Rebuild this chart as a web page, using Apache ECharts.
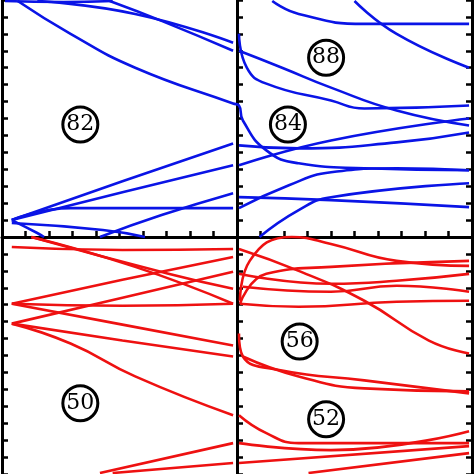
<!DOCTYPE html>
<html><head><meta charset="utf-8">
<script src="https://cdn.jsdelivr.net/npm/echarts@6/dist/echarts.min.js"></script>
<style>html,body{margin:0;padding:0;background:#fff}#c{width:474px;height:474px}</style>
</head><body><div id="c"></div>
<script>
// curves as [x, y] in image-like units (0..474, y downward), converted to centered axes below
const blueCurves = [
  [[13,0],[67,33],[133,67],[233,103],[239,105],[243,120],[267,150],[300,163],[367,168],[474,170]],
  [[33,0],[133,13],[233,42]],
  [[239,33],[247,67],[267,83],[333,100],[367,108],[474,105]],
  [[107,0],[160,20],[233,50]],
  [[239,50],[283,67],[333,87],[400,110],[474,125]],
  [[0,0],[60,1],[110,0]],
  [[7,220],[120,181],[233,143]],
  [[239,145],[300,148],[400,142],[474,132]],
  [[7,220],[120,192],[233,165]],
  [[239,165],[333,140],[474,118]],
  [[7,220],[67,208],[233,208]],
  [[239,197],[333,200],[474,207]],
  [[239,208],[290,185],[333,172],[400,168],[474,170]],
  [[260,237],[300,210],[333,197],[474,183]],
  [[7,220],[33,233],[40,237]],
  [[97,237],[160,215],[233,193]],
  [[7,223],[100,230],[143,237]],
  [[273,0],[300,13],[367,23],[474,23]],
  [[357,0],[400,33],[474,67]]
];
const redCurves = [
  [[7,247],[120,250],[233,249]],
  [[27,237],[133,267],[233,304]],
  [[27,237],[167,274],[233,289]],
  [[7,304],[120,280],[233,257]],
  [[7,304],[120,325],[233,346]],
  [[7,304],[120,306],[233,304]],
  [[7,324],[120,298],[233,272]],
  [[7,324],[120,341],[233,357]],
  [[7,324],[67,344],[133,377],[233,416]],
  [[97,474],[233,444]],
  [[110,474],[233,464]],
  [[240,301],[250,261],[293,237],[333,244],[400,261],[474,266]],
  [[239,274],[333,284],[400,281],[474,274]],
  [[240,304],[267,274],[333,267],[474,261]],
  [[239,249],[300,271],[367,301],[433,341],[474,354]],
  [[240,304],[300,307],[400,302],[474,301]],
  [[243,287],[333,292],[400,286],[474,292]],
  [[239,334],[243,357],[283,371],[367,381],[474,394]],
  [[243,357],[300,377],[367,389],[474,392]],
  [[239,416],[267,434],[300,444],[474,444]],
  [[239,444],[333,451],[474,432]],
  [[239,464],[474,447]],
  [[310,474],[474,454]]
];
const labelNames = ['82','84','88','56','50','52'];
const labelPoints = [[77,124],[289,124],[328,57],[301,342],[77,404],[328,420]];

const conv = p => [p[0]-237, 237-p[1]];
const lineSeries = (curves, color) => curves.map(c => ({
  type:'line', smooth:0.5, symbol:'none', data:c.map(conv), z:2,
  lineStyle:{color:color,width:2.6}, animation:false
}));
const tick = {show:true,inside:true,length:6,lineStyle:{color:'#000',width:2.5}};
const yBase = {type:'value',min:-238,max:238,interval:17,splitLine:{show:false},axisLabel:{show:false},
  axisLine:{show:true,lineStyle:{color:'#000',width:3}},axisTick:tick};
const chart = echarts.init(document.getElementById('c'));
chart.setOption({
  animation:false,
  grid:{left:2,right:2,top:0,bottom:0},
  xAxis:{type:'value',min:-240,max:240,interval:24,splitLine:{show:false},axisLabel:{show:false},
    axisLine:{show:true,onZero:true,lineStyle:{color:'#000',width:3}},axisTick:tick},
  yAxis:[
    Object.assign({},yBase,{axisLine:{show:true,onZero:true,lineStyle:{color:'#000',width:3}}}),
    Object.assign({},yBase,{position:'left',offset:0}),
    Object.assign({},yBase,{position:'right',offset:0})
  ],
  series:[
    ...lineSeries(blueCurves,'#0a14e6'),
    ...lineSeries(redCurves,'#ee1111'),
    {type:'scatter',z:5,symbol:'circle',symbolSize:35,
     itemStyle:{color:'#fff',borderColor:'#000',borderWidth:3,opacity:1},
     label:{show:true,position:'inside',formatter:p=>labelNames[p.dataIndex],
       fontFamily:'DejaVu Serif',fontSize:22,color:'#000'},
     data:labelPoints.map(conv)}
  ]
});
</script></body></html>
